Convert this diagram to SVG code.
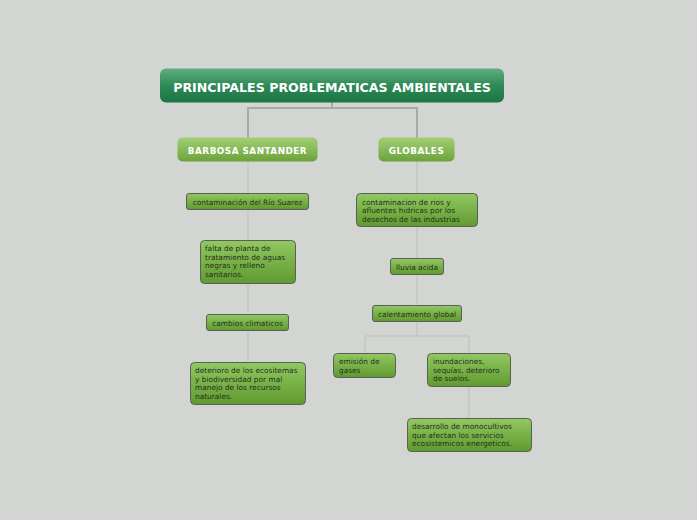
<svg xmlns="http://www.w3.org/2000/svg" width="697" height="520" viewBox="0 0 697 520">
<defs>
<linearGradient id="gRoot" x1="0" y1="0" x2="0" y2="1">
<stop offset="0" stop-color="#5fae80"/>
<stop offset="0.5" stop-color="#2e8a57"/>
<stop offset="1" stop-color="#1b7443"/>
</linearGradient>
<linearGradient id="gMain" x1="0" y1="0" x2="0" y2="1">
<stop offset="0" stop-color="#a3d076"/>
<stop offset="1" stop-color="#6ba23a"/>
</linearGradient>
<linearGradient id="gLeaf" x1="0" y1="0" x2="0" y2="1">
<stop offset="0" stop-color="#92c862"/>
<stop offset="1" stop-color="#5f9a2f"/>
</linearGradient>
</defs>
<style>
.root{fill:url(#gRoot);}
.main{fill:url(#gMain);}
.leaf{fill:url(#gLeaf);stroke:#5a5f57;stroke-width:1;}
.tRoot{font-family:"DejaVu Sans",Verdana,sans-serif;font-weight:bold;font-size:12.6px;fill:#ffffff;text-anchor:middle;}
.tMain{font-family:"DejaVu Sans",Verdana,sans-serif;font-weight:bold;font-size:8.8px;fill:#ffffff;text-anchor:middle;letter-spacing:0.5px;}
.t{font-family:"DejaVu Sans",Verdana,sans-serif;font-size:7.4px;fill:#24301a;}
.tc{font-family:"DejaVu Sans",Verdana,sans-serif;font-size:7.4px;fill:#24301a;text-anchor:middle;}
.c1{fill:none;stroke:#a8aaa7;stroke-width:2;}
.c2{fill:none;stroke:#bdbfbc;stroke-width:1;}
</style>
<rect width="697" height="520" fill="#d3d5d2"/>
<g id="connectors">
<path class="c1" d="M332 102 V108 M248 138 V108 H417 V138"/>
<path class="c2" d="M248 161 V362 M417 161 V305 M417 322 V336 M365 353 V336 H469 V353 M469 387 V418"/>
</g>
<g id="root">
<rect class="root" x="160" y="68.5" width="344" height="34" rx="6"/>
<text class="tRoot" x="332" y="91.5">PRINCIPALES PROBLEMATICAS AMBIENTALES</text>
</g>
<g id="barbosa">
<rect class="main" x="177.5" y="137.5" width="140" height="24" rx="5"/>
<text class="tMain" x="247.5" y="153.5">BARBOSA SANTANDER</text>
</g>
<g id="globales">
<rect class="main" x="378.5" y="137.5" width="76" height="24" rx="5"/>
<text class="tMain" x="416.5" y="153.5">GLOBALES</text>
</g>
<g id="rio-suarez">
<rect class="leaf" x="186.5" y="193.5" width="122" height="16" rx="2.5"/>
<text class="tc" x="247.5" y="204.5">contaminación del Río Suarez</text>
</g>
<g id="falta-planta">
<rect class="leaf" x="200.5" y="240.5" width="95" height="43" rx="4"/>
<text class="t" x="205" y="251">falta de planta de</text>
<text class="t" x="205" y="259.5">tratamiento de aguas</text>
<text class="t" x="205" y="268">negras y relleno</text>
<text class="t" x="205" y="276.5">sanitarios.</text>
</g>
<g id="cambios">
<rect class="leaf" x="206.5" y="314.5" width="82" height="16" rx="2.5"/>
<text class="tc" x="247.5" y="325.5">cambios climaticos</text>
</g>
<g id="deterioro-eco">
<rect class="leaf" x="190.5" y="362.5" width="115" height="42" rx="4"/>
<text class="t" x="195" y="373">deterioro de los ecositemas</text>
<text class="t" x="195" y="381.5">y biodiversidad por mal</text>
<text class="t" x="195" y="390">manejo de los recursos</text>
<text class="t" x="195" y="398.5">naturales.</text>
</g>
<g id="contaminacion-rios">
<rect class="leaf" x="356.5" y="193.5" width="121" height="33" rx="4"/>
<text class="t" x="362" y="204.5">contaminacion de rios y</text>
<text class="t" x="362" y="213">afluentes hidricas por los</text>
<text class="t" x="362" y="221.5">desechos de las industrias</text>
</g>
<g id="lluvia">
<rect class="leaf" x="390.5" y="258.5" width="53" height="16" rx="2.5"/>
<text class="tc" x="417" y="269.5">lluvia acida</text>
</g>
<g id="calentamiento">
<rect class="leaf" x="372.5" y="305.5" width="89" height="16" rx="2.5"/>
<text class="tc" x="417" y="316.5">calentamiento global</text>
</g>
<g id="emision">
<rect class="leaf" x="333.5" y="353.5" width="62" height="24" rx="4"/>
<text class="t" x="339" y="364">emisión de</text>
<text class="t" x="339" y="372.5">gases</text>
</g>
<g id="inundaciones">
<rect class="leaf" x="427.5" y="353.5" width="83" height="33" rx="4"/>
<text class="t" x="433" y="364">inundaciones,</text>
<text class="t" x="433" y="372.5">sequías, deterioro</text>
<text class="t" x="433" y="381">de suelos.</text>
</g>
<g id="desarrollo">
<rect class="leaf" x="407.5" y="418.5" width="124" height="33" rx="4"/>
<text class="t" x="412" y="429">desarrollo de monocultivos</text>
<text class="t" x="412" y="437.5">que afectan los servicios</text>
<text class="t" x="412" y="446">ecosistemicos energeticos.</text>
</g>
</svg>
